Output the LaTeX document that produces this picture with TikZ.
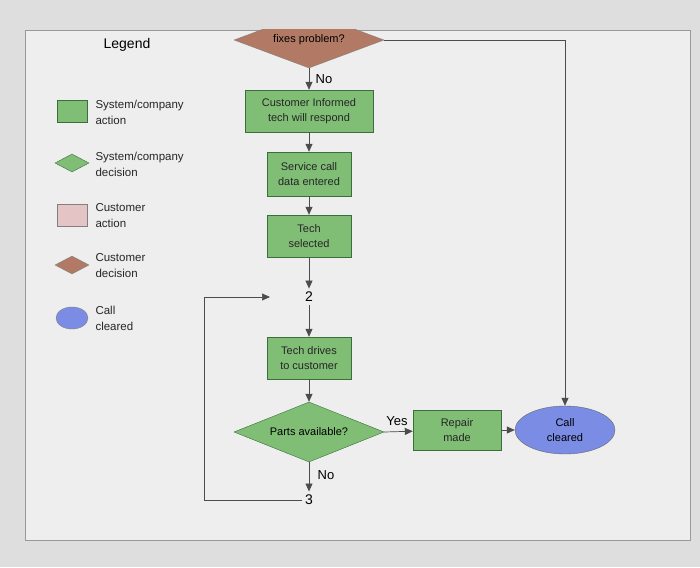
\documentclass[tikz,border=0pt]{standalone}
\usepackage{fontspec}
\setmainfont{Liberation Sans}
\usetikzlibrary{shapes.geometric,arrows.meta}
\definecolor{gfill}{RGB}{128,190,118}
\definecolor{gline}{RGB}{60,110,60}
\definecolor{bfill}{RGB}{178,122,100}
\definecolor{pfill}{RGB}{228,196,196}
\definecolor{ufill}{RGB}{122,140,228}
\definecolor{bg}{RGB}{222,222,222}
\definecolor{panel}{RGB}{238,238,238}
\tikzset{
 box/.style={draw=gline,fill=gfill,rectangle,minimum width=#1,align=center,inner sep=1pt,font=\fontsize{11}{15}\selectfont,text=black!85},
 dia/.style={draw=gline,fill=gfill,diamond,aspect=2.5,inner sep=1pt,font=\fontsize{11}{13}\selectfont},
 leg/.style={anchor=west,align=left,font=\fontsize{11.5}{16}\selectfont,text=black!85},
 arr/.style={-{Triangle[length=8pt,width=7pt]},draw=black!70,line width=0.7pt},
 ln/.style={draw=black!70,line width=0.7pt}
}
\begin{document}
\begin{tikzpicture}[x=1pt,y=-1pt]
\fill[bg] (0,0) rectangle (700,567);
\useasboundingbox (0,0) rectangle (700,567);
\fill[panel,draw=black!40] (25,30) rectangle (690,540);
% legend
\node[font=\fontsize{14}{16}\selectfont] (lt) at (127,45) {Legend};
\node[draw=gline,fill=gfill,minimum width=30pt,minimum height=22pt] (l1) at (72,111) {};
\node[leg] (t1) at (92,112) {System/company\\action};
\node[draw=gline,fill=gfill,diamond,aspect=1.8,minimum width=34pt,minimum height=18pt,inner sep=0pt] (l2) at (72,163) {};
\node[leg] (t2) at (92,164) {System/company\\decision};
\node[draw=black!50,fill=pfill,minimum width=30pt,minimum height=22pt] (l3) at (72,215) {};
\node[leg] (t3) at (92,216) {Customer\\action};
\node[draw=black!50,fill=bfill,diamond,aspect=1.8,minimum width=34pt,minimum height=18pt,inner sep=0pt] (l4) at (72,265) {};
\node[leg] (t4) at (92,266) {Customer\\decision};
\node[draw=black!50,fill=ufill,ellipse,minimum width=32pt,minimum height=22pt] (l5) at (72,318) {};
\node[leg] (t5) at (92,318) {Call\\cleared};
% flow
\begin{scope}
\clip (25,30) rectangle (690,540);
\node[draw=black!50,fill=bfill,diamond,aspect=2.7,minimum width=150pt,minimum height=56pt,inner sep=0pt,font=\fontsize{11}{13}\selectfont] (d1) at (309,40) {fixes problem?};
\end{scope}
\node[box=128pt,minimum height=42pt] (b1) at (309,111) {Customer Informed\\tech will respond};
\node[box=84pt,minimum height=44pt] (b2) at (309,174) {Service call\\data entered};
\node[box=84pt,minimum height=42pt] (b3) at (309,236) {Tech\\selected};
\node[font=\fontsize{14}{16}\selectfont] (n2) at (309,297) {2};
\node[box=84pt,minimum height=42pt] (b4) at (309,358) {Tech drives\\to customer};
\node[dia,minimum width=150pt,minimum height=60pt] (d2) at (309,432) {Parts available?};
\node[font=\fontsize{14}{16}\selectfont] (n3) at (309,500) {3};
\node[box=88pt,minimum height=40pt] (b5) at (457,430) {Repair\\made};
\node[draw=black!60,fill=ufill,ellipse,minimum width=100pt,minimum height=48pt,align=center,font=\fontsize{11}{15}\selectfont] (e) at (565,430) {Call\\cleared};
\coordinate (c1) at (565,40);
\coordinate (c2) at (204,500);
\coordinate (c3) at (204,297);
\coordinate (c4) at (270,297);
\draw[arr] (d1.south) -- (b1) node[pos=0.5,right=3pt,font=\fontsize{13}{15}\selectfont]{No};
\draw[arr] (b1) -- (b2);
\draw[arr] (b2) -- (b3);
\draw[arr] (b3) -- (n2);
\draw[arr] (n2) -- (b4);
\draw[arr] (b4) -- (d2);
\draw[arr] (d2) -- (n3) node[pos=0.45,right=5pt,font=\fontsize{13}{15}\selectfont]{No};
\draw[arr] (d2.east) -- (b5) node[pos=0.45,above=2pt,font=\fontsize{13}{15}\selectfont]{Yes};
\draw[arr] (b5) -- (e);
\draw[ln] (d1.east) -- (c1);
\draw[arr] (c1) -- (e.north);
\draw[ln] (n3.west) -- (c2) -- (c3);
\draw[arr] (c3) -- (c4);
\end{tikzpicture}
\end{document}
